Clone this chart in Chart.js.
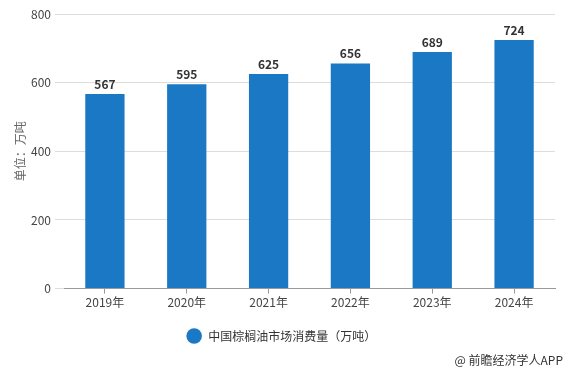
<!DOCTYPE html>
<html>
<head>
<meta charset="utf-8">
<script src="https://cdn.jsdelivr.net/npm/chart.js@4"></script>
<style>
  body { margin: 0; background: #fff; }
  #wrap { position: relative; width: 569px; height: 371px; }
  #credit { position: absolute; right: 6px; top: 351px; font: 12px "Noto Sans CJK SC", sans-serif; color: #333; }
</style>
</head>
<body>
<div id="wrap">
  <canvas id="myChart" width="569" height="371"></canvas>
  <div id="credit">@ 前瞻经济学人APP</div>
</div>
<script>
// 中国棕榈油市场消费量
const years = ["2019年", "2020年", "2021年", "2022年", "2023年", "2024年"];
const consumption = [567, 595, 625, 656, 689, 724];
const yTicks = [0, 200, 400, 600, 800];
const seriesName = "中国棕榈油市场消费量（万吨）";

const font = '"Noto Sans CJK SC", "Open Sans", sans-serif';
const ctx = document.getElementById('myChart');

// value labels above bars
const barLabels = {
  id: 'barLabels',
  afterDatasetsDraw(chart) {
    const c = chart.ctx;
    const meta = chart.getDatasetMeta(0);
    c.save();
    c.font = 'bold 12px ' + font;
    c.fillStyle = '#333';
    c.textAlign = 'center';
    c.textBaseline = 'bottom';
    meta.data.forEach((bar, i) => {
      c.fillText(consumption[i], bar.x, bar.y - 4);
    });
    c.restore();
  }
};

new Chart(ctx, {
  type: 'bar',
  data: {
    labels: years,
    datasets: [{
      label: seriesName,
      data: consumption,
      backgroundColor: '#1a78c4',
      categoryPercentage: 1,
      barPercentage: 0.48
    }]
  },
  options: {
    responsive: false,
    animation: false,
    layout: { padding: { top: 14, right: 14, left: 10, bottom: 19 } },
    plugins: {
      tooltip: { enabled: false },
      legend: {
        position: 'bottom',
        labels: {
          usePointStyle: true,
          pointStyle: 'circle',
          boxWidth: 11,
          boxHeight: 11,
          padding: 18,
          color: '#333',
          font: { family: font, size: 12 },
          generateLabels(chart) {
            const items = Chart.defaults.plugins.legend.labels.generateLabels(chart);
            items.forEach(it => { it.text = ' ' + it.text; });
            return items;
          }
        }
      }
    },
    scales: {
      x: {
        grid: { display: true, drawOnChartArea: false, offset: false, tickLength: 5, color: '#999' },
        border: { color: '#999' },
        ticks: { color: '#444', font: { family: font, size: 12 }, padding: 2 }
      },
      y: {
        min: 0,
        max: 800,
        afterBuildTicks(axis) { axis.ticks = yTicks.map(v => ({ value: v })); },
        afterFit(axis) { axis.width = 54; },
        grid: { color: '#ddd', tickLength: 9 },
        border: { display: false },
        ticks: { color: '#444', font: { family: font, size: 12 }, padding: 4 },
        title: {
          display: true,
          text: '单位：万吨',
          color: '#666',
          font: { family: font, size: 12 },
          padding: { top: 3, bottom: 0 }
        }
      }
    }
  },
  plugins: [barLabels]
});
</script>
</body>
</html>
